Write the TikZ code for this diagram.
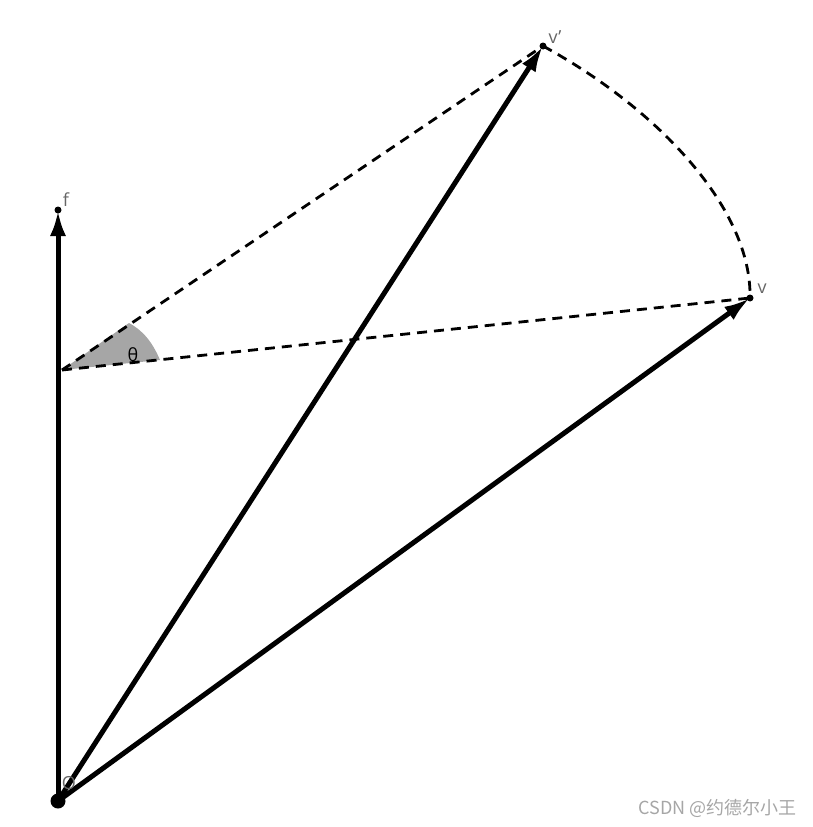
\documentclass[tikz,border=0pt]{standalone}
\usepackage{fontspec}
\setmainfont{Open Sans}
\newfontfamily\cjk{Noto Sans CJK SC}
\usetikzlibrary{arrows.meta}
\begin{document}
\begin{tikzpicture}[x=1pt,y=-1pt,
  vec/.style={line width=5pt,-{Latex[length=26pt,width=16pt]}},
  dsh/.style={line width=2.8pt,dash pattern=on 10pt off 7pt},
  lbl/.style={text=gray!80!black,font=\fontsize{18}{18}\selectfont,inner sep=0pt},
  tipdot/.style={circle,fill=black,inner sep=0pt,minimum size=7pt}]
\useasboundingbox (0,0) rectangle (812,827);
\coordinate (O) at (58,801);
\coordinate (F) at (58,210);
\coordinate (Vp) at (543,46);
\coordinate (V) at (750,298);
\coordinate (C) at (62,370);
\coordinate (A1) at (160,360);
\coordinate (A2) at (129,323);
% sector
\fill[gray!70] (C) -- (A1) .. controls (152,341) and (142,330) .. (A2) -- cycle;
% dashed lines
\draw[dsh] (C) -- (Vp);
\draw[dsh] (C) -- (V);
\draw[dsh] (Vp) .. controls (660,110) and (752,210) .. (V);
% vectors
\draw[vec] (O) -- (F);
\draw[vec] (O) -- (Vp);
\draw[vec] (O) -- (V);
\node[tipdot] (fd) at (F) {};
\node[tipdot] (vpd) at (Vp) {};
\node[tipdot] (vd) at (V) {};
\node[circle,fill=black,minimum size=15pt,inner sep=0pt] (od) at (O) {};
% labels
\node[lbl] (lo) at (69,783) {O};
\node[lbl] (lf) at (66,200) {f};
\node[lbl] (lvp) at (555,37) {v'};
\node[lbl] (lv) at (762,289) {v};
\node[font=\fontsize{18}{18}\selectfont,inner sep=0pt] (th) at (133,355) {θ};
\node[anchor=east,text=gray!70,font=\cjk\fontsize{18}{18}\selectfont,inner sep=0pt] (wm) at (797,808) {CSDN @约德尔小王};
\end{tikzpicture}
\end{document}
